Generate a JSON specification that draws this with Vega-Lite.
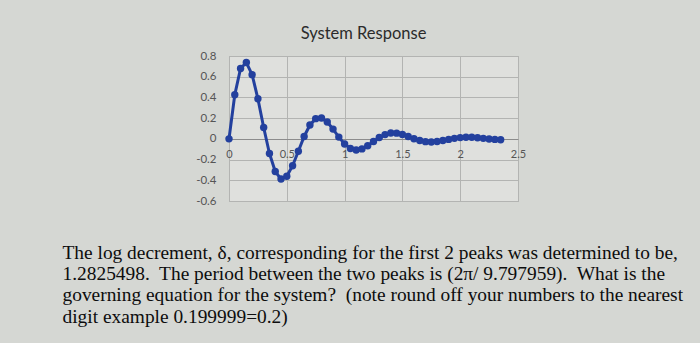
{
  "$schema": "https://vega.github.io/schema/vega-lite/v6.json",
  "width": 289,
  "height": 145,
  "autosize": {"type": "none"},
  "padding": {"left": 229, "top": 56, "right": 182, "bottom": 142},
  "background": "#d5d7d3",
  "title": {"text": "System Response", "frame": "group", "anchor": "middle", "dx": -10, "offset": 8, "font": "Lato", "fontSize": 16.5, "fontWeight": "normal", "color": "#2b2b2b"},
  "data": {"values": [
    {"t": 0, "y": 0}, {"t": 0.05, "y": 0.426}, {"t": 0.1, "y": 0.68}, {"t": 0.15, "y": 0.737},
    {"t": 0.2, "y": 0.62}, {"t": 0.25, "y": 0.387}, {"t": 0.3, "y": 0.11}, {"t": 0.35, "y": -0.141},
    {"t": 0.4, "y": -0.315}, {"t": 0.45, "y": -0.388}, {"t": 0.5, "y": -0.361}, {"t": 0.55, "y": -0.259},
    {"t": 0.6, "y": -0.119}, {"t": 0.65, "y": 0.023}, {"t": 0.7, "y": 0.134}, {"t": 0.75, "y": 0.195},
    {"t": 0.8, "y": 0.202}, {"t": 0.85, "y": 0.163}, {"t": 0.9, "y": 0.094}, {"t": 0.95, "y": 0.017},
    {"t": 1.0, "y": -0.049}, {"t": 1.05, "y": -0.093}, {"t": 1.1, "y": -0.108}, {"t": 1.15, "y": -0.097},
    {"t": 1.2, "y": -0.066}, {"t": 1.25, "y": -0.026}, {"t": 1.3, "y": 0.013}, {"t": 1.35, "y": 0.041},
    {"t": 1.4, "y": 0.056}, {"t": 1.45, "y": 0.055}, {"t": 1.5, "y": 0.042}, {"t": 1.55, "y": 0.022},
    {"t": 1.6, "y": 0.001}, {"t": 1.65, "y": -0.016}, {"t": 1.7, "y": -0.027}, {"t": 1.75, "y": -0.03},
    {"t": 1.8, "y": -0.026}, {"t": 1.85, "y": -0.016}, {"t": 1.9, "y": -0.005}, {"t": 1.95, "y": 0.005},
    {"t": 2.0, "y": 0.012}, {"t": 2.05, "y": 0.016}, {"t": 2.1, "y": 0.015}, {"t": 2.15, "y": 0.011},
    {"t": 2.2, "y": 0.005}, {"t": 2.25, "y": -0.001}, {"t": 2.3, "y": -0.005}, {"t": 2.35, "y": -0.008}
  ]},
  "mark": {"type": "line", "color": "#23409e", "strokeWidth": 3, "point": {"filled": true, "size": 55, "color": "#23409e"}},
  "encoding": {
    "x": {
      "field": "t", "type": "quantitative",
      "scale": {"domain": [0, 2.5], "nice": false, "zero": false},
      "axis": {
        "values": [0, 0.5, 1, 1.5, 2, 2.5],
        "labelExpr": "datum.value + ''",
        "offset": -62,
        "domainColor": "#8c8c8c",
        "ticks": false,
        "labelPadding": 9,
        "labelFlush": false,
        "labelOverlap": false,
        "labelFont": "Lato",
        "labelFontSize": 11,
        "labelColor": "#555555",
        "gridColor": "#b3b4b2",
        "title": [
          "The log decrement, δ, corresponding for the first 2 peaks was determined to be,",
          "1.2825498.\u00a0 The period between the two peaks is (2π/ 9.797959).\u00a0 What is the",
          "governing equation for the system?\u00a0 (note round off your numbers to the nearest",
          "digit example 0.199999=0.2)"
        ],
        "titleX": -167,
        "titleY": 119,
        "titleAlign": "left",
        "titleAngle": 0,
        "titleBaseline": "alphabetic",
        "titleFont": "Liberation Serif",
        "titleFontSize": 19.4,
        "titleFontWeight": "normal",
        "titleColor": "#0d0d0d",
        "titleLineHeight": 21.4
      }
    },
    "y": {
      "field": "y", "type": "quantitative",
      "scale": {"domain": [-0.6, 0.8], "nice": false, "zero": false},
      "axis": {
        "values": [-0.6, -0.4, -0.2, 0, 0.2, 0.4, 0.6, 0.8],
        "labelExpr": "datum.value + ''",
        "domain": false,
        "ticks": false,
        "labelPadding": 13,
        "labelFont": "Lato",
        "labelFontSize": 11.5,
        "labelColor": "#555555",
        "gridColor": "#b3b4b2",
        "title": null
      }
    }
  },
  "config": {"view": {"fill": "#dfe0dd", "stroke": "#a9aaa8"}}
}
